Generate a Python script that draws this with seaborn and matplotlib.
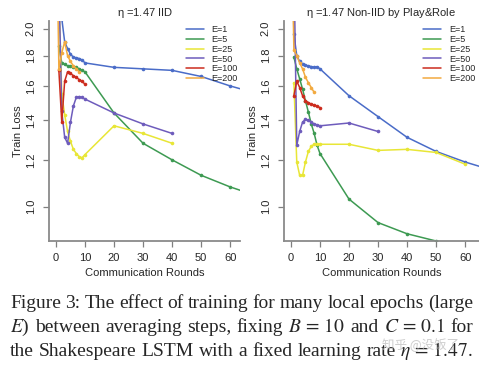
import numpy as np
import pandas as pd
import matplotlib
matplotlib.use("Agg")
import matplotlib.pyplot as plt
from matplotlib.lines import Line2D
from matplotlib.ticker import NullLocator
import seaborn as sns

# ---- data (train loss vs communication rounds) ----
labels = ["E=1", "E=5", "E=25", "E=50", "E=100", "E=200"]
colors = ["#4a6cc8", "#3d9a52", "#e8e636", "#6e5cbc", "#cc2c1e", "#f2aa40"]

r_long = [1, 2, 3, 4, 5, 6, 7, 8, 9, 10, 20, 30, 40, 50, 60, 70]
r_mid = [1, 2, 3, 4, 5, 6, 7, 8, 9, 10, 20, 30, 40]
r_short = [1, 2, 3, 4, 5, 6, 7, 8, 9, 10]
r_e200 = [0, 1, 2, 3, 4, 5, 6, 7, 8]

# IID panel
iid_e1 = [2.60, 2.08, 1.90, 1.85, 1.81, 1.79, 1.785, 1.78, 1.77, 1.75, 1.72, 1.71, 1.70, 1.66, 1.60, 1.55]
iid_e5 = [1.87, 1.75, 1.74, 1.73, 1.73, 1.72, 1.72, 1.71, 1.70, 1.69, 1.44, 1.28, 1.20, 1.13, 1.08, 1.04]
iid_e25 = [2.30, 1.55, 1.43, 1.34, 1.29, 1.25, 1.23, 1.215, 1.21, 1.225, 1.37, 1.33, 1.28]
iid_e50 = [2.40, 1.45, 1.31, 1.28, 1.39, 1.48, 1.53, 1.535, 1.53, 1.52, 1.44, 1.38, 1.33]
iid_e100 = [1.70, 1.39, 1.63, 1.69, 1.68, 1.665, 1.655, 1.64, 1.63, 1.61]
iid_e200 = [3.50, 1.71, 1.82, 1.90, 1.80, 1.76, 1.73, 1.71, 1.69]

# Non-IID panel
r_noniid_e1 = [0, 1, 2, 3, 4, 5, 6, 7, 8, 9, 10, 20, 30, 40, 50, 60, 70]
noniid_e1 = [4.20, 1.96, 1.80, 1.76, 1.745, 1.735, 1.73, 1.725, 1.72, 1.725, 1.71, 1.54, 1.42, 1.31, 1.24, 1.19, 1.15]
r_noniid_e5 = [1, 2, 3, 4, 5, 6, 7, 8, 9, 10, 20, 30, 40, 50, 60]
noniid_e5 = [1.79, 1.71, 1.645, 1.58, 1.51, 1.445, 1.38, 1.33, 1.27, 1.23, 1.03, 0.94, 0.90, 0.875, 0.85]
r_noniid_e25 = [1, 2, 3, 4, 5, 6, 7, 8, 9, 10, 20, 30, 40, 50, 60]
noniid_e25 = [1.62, 1.19, 1.13, 1.13, 1.19, 1.24, 1.265, 1.275, 1.275, 1.275, 1.275, 1.245, 1.25, 1.235, 1.18]
r_noniid_e50 = [1, 2, 3, 4, 5, 6, 7, 8, 9, 10, 20, 30]
noniid_e50 = [2.60, 1.27, 1.34, 1.39, 1.405, 1.40, 1.39, 1.38, 1.375, 1.37, 1.385, 1.34]
noniid_e100 = [1.54, 1.63, 1.59, 1.54, 1.51, 1.50, 1.49, 1.485, 1.48, 1.47]
noniid_e200 = [3.50, 1.84, 1.80, 1.75, 1.71, 1.655, 1.62, 1.59, 1.56]

y_ticks = [1.0, 1.2, 1.4, 1.6, 1.8, 2.0]
x_ticks = [0, 10, 20, 30, 40, 50, 60]

caption = [
    "Figure 3: The effect of training for many local epochs (large",
    r"$E$) between averaging steps, fixing $B\,=\,10$ and $C\,=\,0.1$ for",
    r"the Shakespeare LSTM with a fixed learning rate $\eta\,=\,1.47$.",
]


def to_frame(series):
    """Stack (rounds, loss) pairs into one long table."""
    parts = []
    for lab, (rounds, loss) in zip(labels, series):
        parts.append(pd.DataFrame({"round": rounds, "loss": loss, "E": lab}))
    return pd.concat(parts, ignore_index=True)


iid = to_frame([(r_long, iid_e1), (r_long, iid_e5), (r_mid, iid_e25),
                (r_mid, iid_e50), (r_short, iid_e100), (r_e200, iid_e200)])
noniid = to_frame([(r_noniid_e1, noniid_e1), (r_noniid_e5, noniid_e5),
                   (r_noniid_e25, noniid_e25), (r_noniid_e50, noniid_e50),
                   (r_short, noniid_e100), (r_e200, noniid_e200)])

sns.set_style("ticks")
plt.rcParams["font.family"] = ["Liberation Sans", "DejaVu Sans"]
plt.rcParams["mathtext.fontset"] = "stix"

W, H = 479, 366
fig = plt.figure(figsize=(W / 100, H / 100), dpi=100)
ax1 = fig.add_axes([49 / W, 1 - 241 / H, (240 - 49) / W, 220 / H])
ax2 = fig.add_axes([284 / W, 1 - 241 / H, (W - 284) / W, 220 / H])


def draw_panel(ax, df, title, xmax):
    sns.lineplot(data=df, x="round", y="loss", hue="E", hue_order=labels,
                 palette=colors, marker="o", markersize=2.6, markeredgewidth=0,
                 linewidth=1.1, estimator=None, sort=False, legend=False, ax=ax)
    ax.set_yscale("log")
    ax.set_ylim(0.875, 2.06)
    ax.set_xlim(-2.4, xmax)
    ax.set_yticks(y_ticks, [f"{t:.1f}" for t in y_ticks])
    ax.yaxis.set_minor_locator(NullLocator())
    ax.set_xticks(x_ticks)
    for lab in ax.get_yticklabels():
        lab.set_rotation(90)
        lab.set_va("center")
    ax.tick_params(axis="both", labelsize=8, length=4.5, width=0.9,
                   color="#7f7f7f", direction="out")
    ax.tick_params(axis="x", pad=4)
    ax.tick_params(axis="y", pad=5)
    sns.despine(ax=ax)
    for side in ("left", "bottom"):
        ax.spines[side].set_color("#8a8a8a")
        ax.spines[side].set_linewidth(1.3)
    ax.set_xlabel("Communication Rounds", fontsize=8, va="center")
    ax.xaxis.set_label_coords(0.5, -0.145)
    ax.set_ylabel("Train Loss", fontsize=8, va="center")
    ax.yaxis.set_label_coords(-0.16, 0.5)
    ax.set_title(title, fontsize=8, y=1.038, va="center", pad=0)
    handles = [Line2D([], [], color=c, lw=1.1) for c in colors]
    ax.legend(handles, labels, loc="upper left", bbox_to_anchor=(0.715, 0.98),
              frameon=False, fontsize=6.5, handlelength=2.0, handletextpad=0.9,
              labelspacing=0.08, borderpad=0, borderaxespad=0)


draw_panel(ax1, iid, r"$\mathregular{\eta}$ =1.47 IID", 63.4)
draw_panel(ax2, noniid, r"$\mathregular{\eta}$ =1.47 Non-IID by Play&Role", 64.8)

# justified caption: spread the words of each line between two margins
renderer = fig.canvas.get_renderer()
left_px, right_px = 10, 473
for base_px, line in zip([308, 332, 356], caption):
    words = line.split(" ")
    texts = [fig.text(0, 1 - base_px / H, w, fontsize=14.0, family="Liberation Serif",
                      va="baseline", ha="left") for w in words]
    widths = [t.get_window_extent(renderer).width for t in texts]
    gap = (right_px - left_px - sum(widths)) / (len(words) - 1)
    x = left_px
    for t, w in zip(texts, widths):
        t.set_x(x / W)
        x += w + gap

# faint site watermark over the caption
fig.text(382 / W, 1 - 345 / H, "知乎 @没饭了", fontsize=9, color="#b8b8b8",
         alpha=0.7, family=["Noto Sans CJK SC", "DejaVu Sans"], va="center")

fig.savefig("out.png", dpi=100)
